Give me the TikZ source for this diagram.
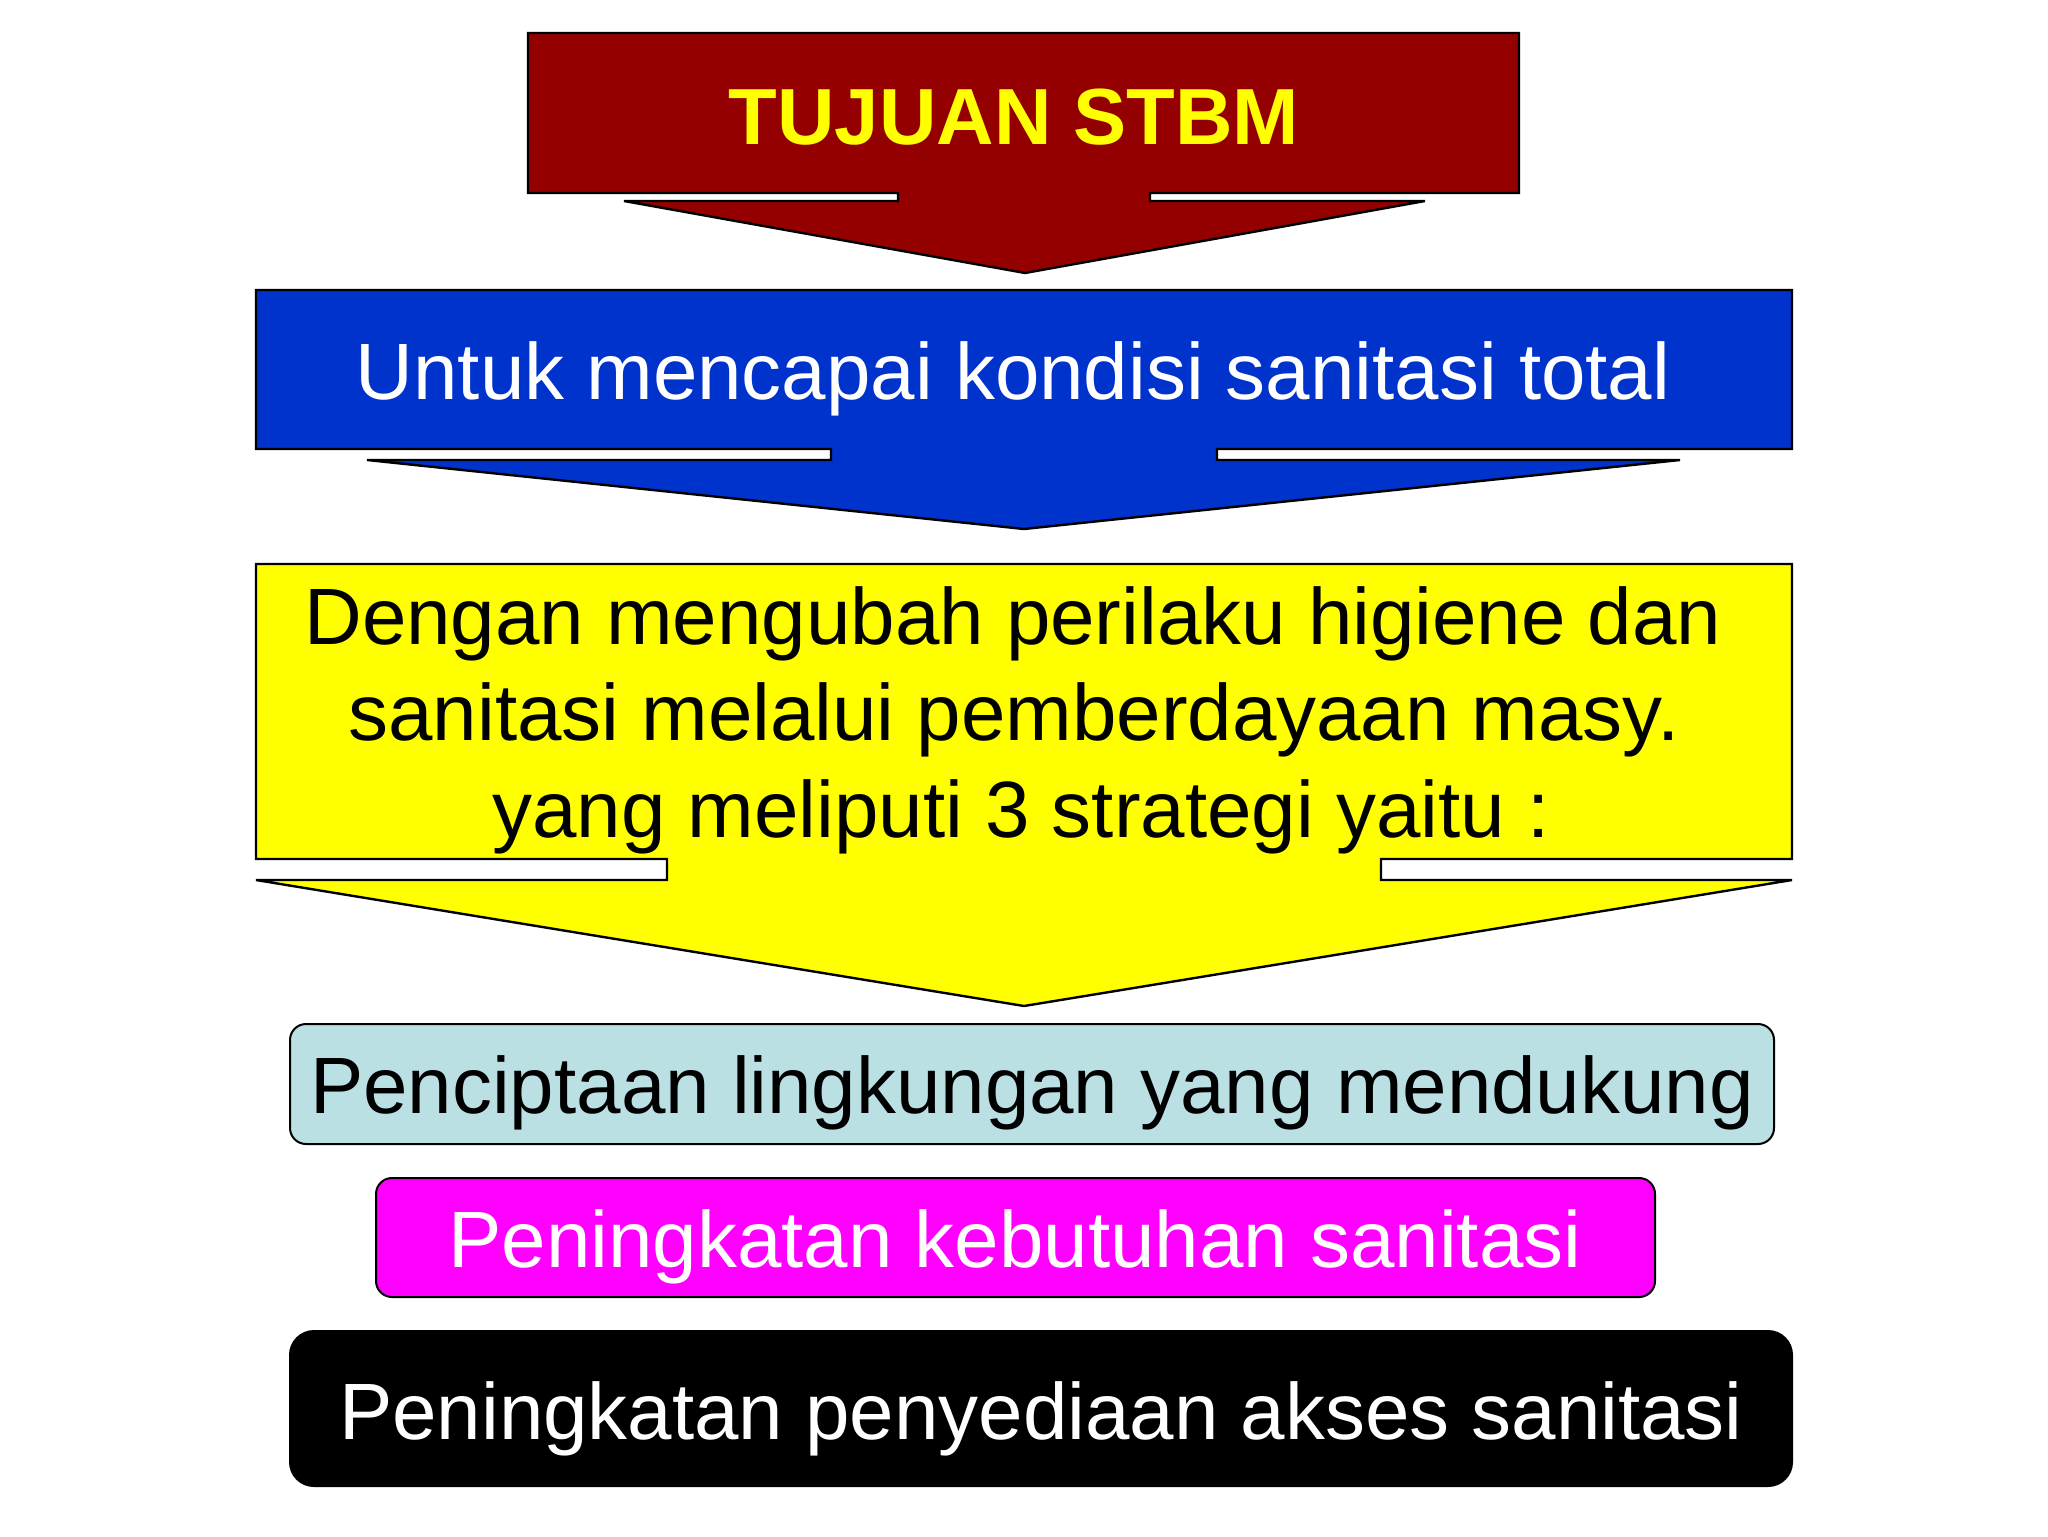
\documentclass[tikz,border=0pt]{standalone}
\usepackage{fontspec}
\setmainfont{Liberation Sans}
\definecolor{darkred}{RGB}{148,0,0}
\definecolor{stbmblue}{RGB}{0,51,204}
\definecolor{stbmyellow}{RGB}{255,255,0}
\definecolor{lightcyan}{RGB}{187,224,227}
\definecolor{stbmmagenta}{RGB}{255,0,255}
\tikzset{
  callout/.style={draw=black, line width=1.2pt, line join=miter},
  bigtext/.style={inner sep=0pt, anchor=base, font=\fontsize{39.95pt}{48pt}\selectfont},
  pill/.style={draw=black, line width=1pt}
}
\begin{document}
\begin{tikzpicture}[x=0.5pt, y=-0.5pt]
\useasboundingbox (0,0) rectangle (2048,1536);
% red callout
\draw[callout, fill=darkred]
  (528,33) -- (1519,33) -- (1519,193) -- (1150,193) -- (1150,201) -- (1425,201)
  -- (1025,273) -- (624,201) -- (898,201) -- (898,193) -- (528,193) -- cycle;
\node[bigtext, font=\fontsize{39.8pt}{48pt}\selectfont\bfseries, text=stbmyellow] (title) at (1014,144) {TUJUAN STBM};
% blue callout
\draw[callout, fill=stbmblue]
  (256,290) -- (1792,290) -- (1792,449) -- (1217,449) -- (1217,460) -- (1680,460)
  -- (1024,529) -- (367,460) -- (831,460) -- (831,449) -- (256,449) -- cycle;
\node[bigtext, text=white] (goal) at (1013,399) {Untuk mencapai kondisi sanitasi total};
% yellow callout
\draw[callout, fill=stbmyellow]
  (256,564) -- (1792,564) -- (1792,859) -- (1381,859) -- (1381,880) -- (1792,880)
  -- (1024,1006) -- (256,880) -- (667,880) -- (667,859) -- (256,859) -- cycle;
\node[bigtext] (l1) at (1013,644) {Dengan mengubah perilaku higiene dan};
\node[bigtext] (l2) at (1014,740) {sanitasi melalui pemberdayaan masy.};
\node[bigtext] (l3) at (1021,837) {yang meliputi 3 strategi yaitu :};
% strategies
\draw[pill, fill=lightcyan, rounded corners=8pt] (290,1024) rectangle (1774,1144);
\node[bigtext] (s1) at (1032,1113) {Penciptaan lingkungan yang mendukung};
\draw[pill, fill=stbmmagenta, rounded corners=8pt] (376,1178) rectangle (1655,1297);
\node[bigtext, text=white] (s2) at (1015,1267) {Peningkatan kebutuhan sanitasi};
\draw[pill, fill=black, rounded corners=12pt] (290,1331) rectangle (1792,1486);
\node[bigtext, text=white] (s3) at (1041,1439) {Peningkatan penyediaan akses sanitasi};
\end{tikzpicture}
\end{document}
